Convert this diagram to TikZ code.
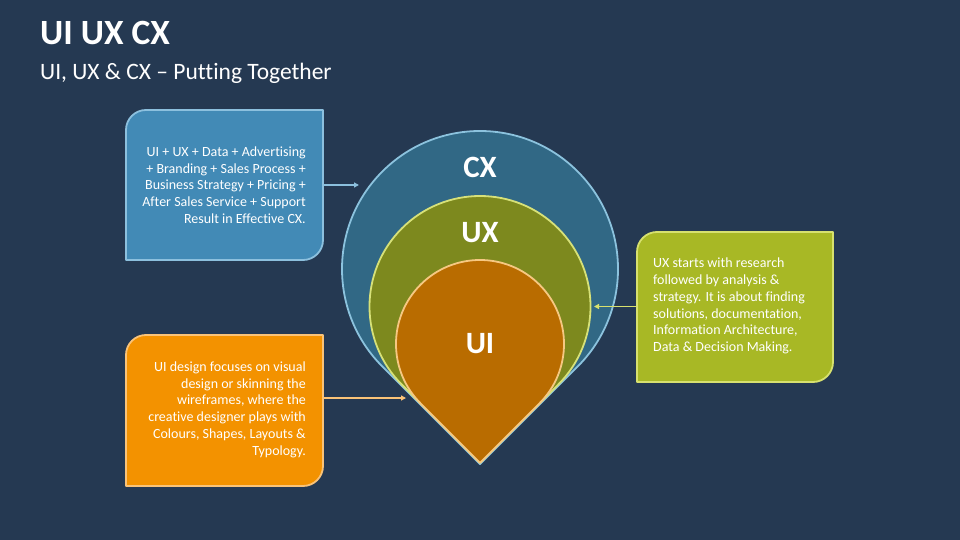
\documentclass[tikz,border=0pt]{standalone}
\usepackage{fontspec}
\setmainfont[Ligatures={TeX,NoCommon}]{Carlito}
\usetikzlibrary{arrows.meta}
\definecolor{bgc}{RGB}{37,57,82}
\definecolor{cxfill}{RGB}{49,104,133}
\definecolor{cxline}{RGB}{140,195,222}
\definecolor{uxfill}{RGB}{125,137,30}
\definecolor{uxline}{RGB}{215,225,120}
\definecolor{uifill}{RGB}{185,108,0}
\definecolor{uiline}{RGB}{246,200,130}
\definecolor{b1fill}{RGB}{66,138,182}
\definecolor{b1line}{RGB}{140,192,222}
\definecolor{b2fill}{RGB}{243,146,0}
\definecolor{b2line}{RGB}{250,195,120}
\definecolor{b3fill}{RGB}{168,184,37}
\definecolor{b3line}{RGB}{215,225,110}
\begin{document}
\begin{tikzpicture}[x=1pt,y=-1pt,
  shapeline/.style={line width=1.8pt, line join=round},
  boxtext/.style={text=white, inner sep=0pt, font=\fontsize{14}{16.75}\selectfont},
  circlabel/.style={text=white, inner sep=0pt, font=\bfseries\fontsize{31}{36}\selectfont},
  conn/.style={line width=1.5pt, -{Triangle[length=5pt,width=5pt]}}]
\fill[bgc] (0,0) rectangle (960,540);
\useasboundingbox (0,0) rectangle (960,540);

% title
\node[anchor=base west, inner sep=0pt, text=white, font=\bfseries\fontsize{35.5}{40}\selectfont] (title) at (40,45) {UI UX CX};
\node[anchor=base west, inner sep=0pt, text=white, font=\fontsize{23.5}{28}\selectfont] (subtitle) at (40,80) {UI, UX \& CX -- Putting Together};

% nested teardrops
\draw[shapeline, draw=cxline, fill=cxfill] (480,269) ++(45:138) arc[start angle=45,end angle=-225,radius=138] -- (480,464.2) -- cycle;
\draw[shapeline, draw=uxline, fill=uxfill] (480,306.5) ++(45:110.5) arc[start angle=45,end angle=-225,radius=110.5] -- (480,462.8) -- cycle;
\draw[shapeline, draw=uiline, fill=uifill] (480,344) ++(45:84) arc[start angle=45,end angle=-225,radius=84] -- (480,462.8) -- cycle;

\node[circlabel] (cx) at (480,167) {CX};
\node[circlabel] (ux) at (480,233) {UX};
\node[circlabel] (ui) at (480,344) {UI};

% box 1 (blue)
\draw[shapeline, draw=b1line, fill=b1fill] (126,130) arc[start angle=180,end angle=270,radius=20] -- (323,110) -- (323,240) arc[start angle=0,end angle=90,radius=20] -- (126,260) -- cycle;
\node[boxtext, anchor=east, align=right] (t1) at (306,185) {UI + UX + Data + Advertising\\+ Branding + Sales Process +\\Business Strategy + Pricing +\\After Sales Service + Support\\Result in Effective CX.};

% box 2 (orange)
\draw[shapeline, draw=b2line, fill=b2fill] (126,355) arc[start angle=180,end angle=270,radius=20] -- (323,335) -- (323,466) arc[start angle=0,end angle=90,radius=20] -- (126,486) -- cycle;
\node[boxtext, anchor=east, align=right] (t2) at (306,409.5) {UI design focuses on visual\\design or skinning the\\wireframes, where the\\creative designer plays with\\Colours, Shapes, Layouts \&\\Typology.};

% box 3 (green)
\draw[shapeline, draw=b3line, fill=b3fill] (637,252) arc[start angle=180,end angle=270,radius=20] -- (833,232) -- (833,362) arc[start angle=0,end angle=90,radius=20] -- (637,382) -- cycle;
\node[boxtext, anchor=west, align=left] (t3) at (653,306) {UX starts with research\\followed by analysis \&\\strategy. It is about finding\\solutions, documentation,\\Information Architecture,\\Data \& Decision Making.};

% connectors
\coordinate (b1r) at (323,185);
\coordinate (cxl) at (359,185);
\coordinate (b2r) at (323,398);
\coordinate (uil) at (406,398);
\coordinate (b3l) at (637,306.5);
\coordinate (uxr) at (594,306.5);
\draw[conn, draw=b1line, color=b1line] (b1r) -- (cxl);
\draw[conn, draw=b2line, color=b2line] (b2r) -- (uil);
\draw[conn, draw=b3line, color=b3line] (b3l) -- (uxr);
\end{tikzpicture}
\end{document}
